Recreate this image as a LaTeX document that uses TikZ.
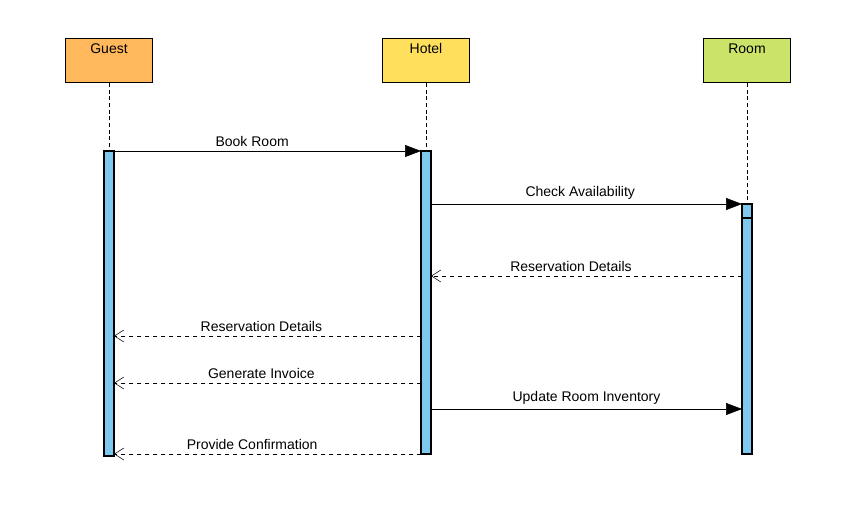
\documentclass[tikz,border=0pt]{standalone}
\usepackage{fontspec}
\setmainfont{Liberation Sans}
\usetikzlibrary{arrows.meta}
\begin{document}
\begin{tikzpicture}[x=0.75pt,y=-0.75pt,
  head/.style={draw=black,thick,minimum width=87*0.75pt,minimum height=44*0.75pt,inner sep=0,font=\fontsize{10.5}{12}\selectfont,anchor=north},
  life/.style={densely dashed,thin},
  act/.style={draw=black,thick},
  sync/.style={-{Triangle[length=12pt,width=9pt]}},
  ret/.style={dashed,-{Straight Barb[length=7pt,width=9pt]}},
  lbl/.style={font=\fontsize{10.5}{12}\selectfont,above,inner sep=3pt}]
\useasboundingbox (0,0) rectangle (851,506);
\definecolor{cg}{HTML}{FFB85C}\definecolor{ch}{HTML}{FFDF5C}\definecolor{cr}{HTML}{CCE36A}\definecolor{ca}{HTML}{7CC8EE}
\node[head,fill=cg] (guest) at (109,38) {};
\node[font=\fontsize{10.5}{12}\selectfont,anchor=north] at (109,39) {Guest};
\node[head,fill=ch] (hotel) at (426,38) {};
\node[font=\fontsize{10.5}{12}\selectfont,anchor=north] at (426,39) {Hotel};
\node[head,fill=cr] (room) at (747,38) {};
\node[font=\fontsize{10.5}{12}\selectfont,anchor=north] at (747,39) {Room};
\draw[life] (guest.south) -- (109,151);
\draw[life] (hotel.south) -- (426,151);
\draw[life] (room.south) -- (747,204);
\draw[act,fill=ca] (104,151) rectangle (114,456);
\draw[act,fill=ca] (421,151) rectangle (431,454);
\draw[act,fill=ca] (742,204) rectangle (752,454);
\draw[thick] (742,218) -- (752,218);
\coordinate (g1) at (114,151); \coordinate (h1) at (421,151);
\draw[sync] (g1) -- node[lbl,pos=0.45]{Book Room} (h1);
\coordinate (h2) at (431,204); \coordinate (r2) at (742,204);
\draw[sync] (h2) -- node[lbl,pos=0.48]{Check Availability} (r2);
\coordinate (r3) at (742,276); \coordinate (h3) at (431,276);
\draw[ret] (r3) -- node[lbl,pos=0.55]{Reservation Details} (h3);
\coordinate (h4) at (421,336); \coordinate (g4) at (114,336);
\draw[ret] (h4) -- node[lbl,pos=0.52]{Reservation Details} (g4);
\coordinate (h5) at (421,383); \coordinate (g5) at (114,383);
\draw[ret] (h5) -- node[lbl,pos=0.52]{Generate Invoice} (g5);
\coordinate (h6) at (431,409); \coordinate (r6) at (742,409);
\draw[sync] (h6) -- node[lbl]{Update Room Inventory} (r6);
\coordinate (h7) at (421,454); \coordinate (g7) at (114,454);
\draw[ret] (h7) -- node[lbl,pos=0.55]{Provide Confirmation} (g7);
\end{tikzpicture}
\end{document}
